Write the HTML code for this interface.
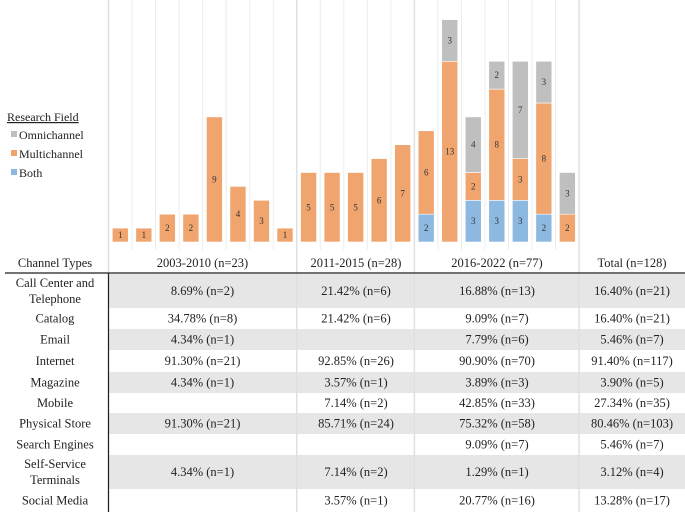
<!DOCTYPE html>
<html><head><meta charset="utf-8"><style>
body{margin:0;background:#fff;font-family:"Liberation Serif",serif;}
#wrap{position:relative;width:685px;height:512px;overflow:hidden;}
svg{position:absolute;left:0;top:0;}
</style></head><body>
<div id="wrap">
<svg id="svg" width="685" height="512"></svg>
</div>
<script>
const years=["2003","2004","2005","2006","2007","2008","2009","2010","2011","2012","2013","2014","2015","2016","2017","2018","2019","2020","2021","2022"];
const both=[0,0,0,0,0,0,0,0,0,0,0,0,0,2,0,3,3,3,2,0];
const multi=[1,1,2,2,9,4,3,1,5,5,5,6,7,6,13,2,8,3,8,2];
const omni=[0,0,0,0,0,0,0,0,0,0,0,0,0,0,3,4,2,7,3,3];
const rowNames=[["Call Center and","Telephone"],["Catalog"],["Email"],["Internet"],["Magazine"],["Mobile"],["Physical Store"],["Search Engines"],["Self-Service","Terminals"],["Social Media"]];
const col1=["8.69% (n=2)","34.78% (n=8)","4.34% (n=1)","91.30% (n=21)","4.34% (n=1)","","91.30% (n=21)","","4.34% (n=1)",""];
const col2=["21.42% (n=6)","21.42% (n=6)","","92.85% (n=26)","3.57% (n=1)","7.14% (n=2)","85.71% (n=24)","","7.14% (n=2)","3.57% (n=1)"];
const col3=["16.88% (n=13)","9.09% (n=7)","7.79% (n=6)","90.90% (n=70)","3.89% (n=3)","42.85% (n=33)","75.32% (n=58)","9.09% (n=7)","1.29% (n=1)","20.77% (n=16)"];
const col4=["16.40% (n=21)","16.40% (n=21)","5.46% (n=7)","91.40% (n=117)","3.90% (n=5)","27.34% (n=35)","80.46% (n=103)","5.46% (n=7)","3.12% (n=4)","13.28% (n=17)"];
const headers=["Channel Types","2003-2010 (n=23)","2011-2015 (n=28)","2016-2022 (n=77)","Total (n=128)"];

const svg=document.getElementById('svg');
const NS="http://www.w3.org/2000/svg";
function mk(t,a,p){const e=document.createElementNS(NS,t);for(const k in a)e.setAttribute(k,a[k]);(p||svg).appendChild(e);return e;}
const x0=108.5,cw=23.53,base=242,unit=13.9;
function xCol(i){return x0+i*cw;}
function yv(v){return base-v*unit;}
const C={both:"#8DB8E0",multi:"#F0A46E",omni:"#BFBFBF"};

// table rows
const rowY=[274,308,329,350,372,393,413,434,455,489,512];
for(let r=0;r<rowNames.length;r++){
  const y1=rowY[r],y2=rowY[r+1];
  if(r%2===0){const bg=mk('rect',{x:109,y:y1,width:576,height:y2-y1,fill:"#E7E6E7"});
  
  }
}
// column grid lines
for(let i=0;i<=20;i++){
  const x=xCol(i);
  const grp=(i===0||i===8||i===13||i===20);
  const ln=mk('line',{x1:x,y1:0,x2:x,y2:grp?512:250,stroke:grp?"#e0e0e0":"#ececec","stroke-width":grp?1.5:1});
  
  
}
mk('line',{x1:5,y1:273,x2:685,y2:273,stroke:"#444","stroke-width":1.6});
mk('line',{x1:108.5,y1:273,x2:108.5,y2:512,stroke:"#222","stroke-width":1.2});

// bars
for(let i=0;i<years.length;i++){
  const bx=xCol(i)+3.8,bw=16;
  let acc=0;
  [["both",both[i]],["multi",multi[i]],["omni",omni[i]]].forEach(([k,v])=>{
    if(!v)return;
    const r=mk('rect',{x:bx,y:yv(acc+v),width:bw,height:v*unit,fill:C[k],stroke:"#fff","stroke-width":0.6});
    
    
    const t=mk('text',{x:bx+bw/2,y:yv(acc+v/2)+3,"text-anchor":"middle","font-size":"9","fill":"#333"});
    t.textContent=v;
    
    
    acc+=v;
  });
}

// legend
const lt=mk('text',{x:7,y:121,"font-size":"12",fill:"#222","text-decoration":"underline"});
lt.textContent="Research Field";


[["Omnichannel","omni",139],["Multichannel","multi",158],["Both","both",177]].forEach(([n,k,y])=>{
  const s=mk('rect',{x:11,y:y-8,width:6,height:6,fill:C[k]});
  
  
  const t=mk('text',{x:19,y:y,"font-size":"12",fill:"#222"});
  t.textContent=n;
  
  
});

// header
const hx=[55,202.5,356,497,632];
headers.forEach((h,i)=>{
  const t=mk('text',{x:hx[i],y:267,"font-size":"12.5",fill:"#222","text-anchor":"middle"});
  t.textContent=h;
  
  
});
// body
const cols=[col1,col2,col3,col4];
for(let r=0;r<rowNames.length;r++){
  const yc=(rowY[r]+rowY[r+1])/2;
  const nm=rowNames[r];
  nm.forEach((s,j)=>{
    const t=mk('text',{x:55,y:yc+4+(j-(nm.length-1)/2)*16,"font-size":"12.5",fill:"#222","text-anchor":"middle"});
    t.textContent=s;
    
    
  });
  cols.forEach((c,ci)=>{
    if(!c[r])return;
    const t=mk('text',{x:hx[ci+1],y:yc+4,"font-size":"12.5",fill:"#222","text-anchor":"middle"});
    t.textContent=c[r];
    
    
  });
}
</script>
</body></html>
